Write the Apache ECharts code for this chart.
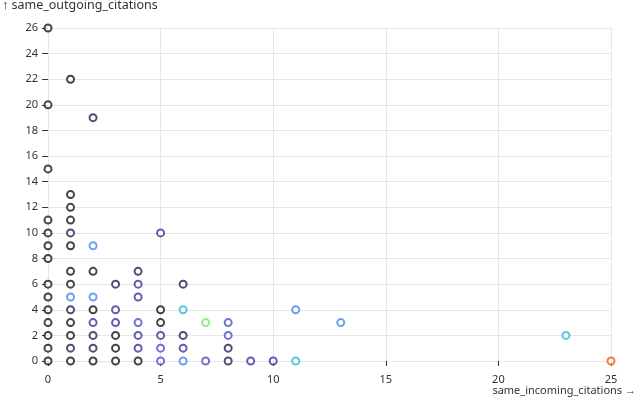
<!DOCTYPE html>
<html><head><meta charset="utf-8"><script src="https://cdn.jsdelivr.net/npm/echarts@6/dist/echarts.min.js"></script>
<style>html,body{margin:0;padding:0;background:#fff}#c{width:640px;height:400px}</style></head>
<body><div id="c"></div><script>
// color classes: 0 black,1 dark purple,2 purple,3 indigo-blue,4 blue,5 cyan,6 green,7 orange
const palette = ['#1a1418','#2a1d55','#40339a','#4b4fc8','#4688ec','#35b8d8','#7be867','#f05b12'];
const xs = [0,0,0,0,0,0,0,0,0,0,0,0,0,0,
  1,1,1,1,1,1,1,1,1,1,1,1,1,1,
  2,2,2,2,2,2,2,2,2,
  3,3,3,3,3,3,
  4,4,4,4,4,4,4,
  5,5,5,5,5,5,
  6,6,6,6,6,
  7,7,
  8,8,8,8,
  9,10,11,11,13,23,25];
const ys = [0,1,2,3,4,5,6,8,9,10,11,15,20,26,
  0,1,2,3,4,5,6,7,9,10,11,12,13,22,
  0,1,2,3,4,5,7,9,19,
  0,1,2,3,4,6,
  0,1,2,3,5,6,7,
  0,1,2,3,4,10,
  0,1,2,4,6,
  0,3,
  0,1,2,3,
  0,0,0,4,3,2,0];
const cs = [0,0,0,0,0,0,0,0,0,0,0,0,0,0,
  0,1,0,0,1,4,0,0,0,1,0,0,0,0,
  0,1,1,2,0,4,0,4,1,
  0,0,0,2,2,1,
  0,2,2,3,2,2,1,
  3,3,2,0,0,2,
  4,2,1,5,1,
  3,6,
  1,1,3,3,
  2,2,5,4,4,5,7];
const data = xs.map((x,i)=>({value:[x,ys[i]],itemStyle:{borderColor:palette[cs[i]]}}));
const chart=echarts.init(document.getElementById('c'));
const font="Noto Sans";
chart.setOption({
  animation:false,
  grid:{left:48,right:29,top:28,bottom:39,containLabel:false,outerBoundsMode:'none'},
  xAxis:{type:'value',min:0,max:25,interval:5,offset:9,
    name:'same_incoming_citations →',nameLocation:'end',nameGap:0,
    nameTextStyle:{fontFamily:font,fontSize:11,color:'#333',align:'right',verticalAlign:'top',padding:[24,-25,0,0]},
    axisLine:{show:false},axisTick:{show:true,length:5,lineStyle:{color:'#333'}},
    axisLabel:{fontFamily:font,fontSize:11,color:'#333',margin:4},
    splitLine:{lineStyle:{color:'#e6e6e6'}}},
  yAxis:{type:'value',min:0,max:26,interval:2,offset:7,
    name:'↑ same_outgoing_citations',nameLocation:'end',nameGap:16,
    nameTextStyle:{fontFamily:font,fontSize:12.5,color:'#333',align:'left',padding:[0,0,0,-46]},
    axisLine:{show:false},axisTick:{show:true,length:6,lineStyle:{color:'#333'}},
    axisLabel:{fontFamily:font,fontSize:11,color:'#333',margin:3},
    splitLine:{lineStyle:{color:'#e6e6e6'}}},
  series:[{type:'scatter',data:data,symbol:'circle',symbolSize:7,
    itemStyle:{color:'#fff',borderWidth:2}}]
});
</script></body></html>
